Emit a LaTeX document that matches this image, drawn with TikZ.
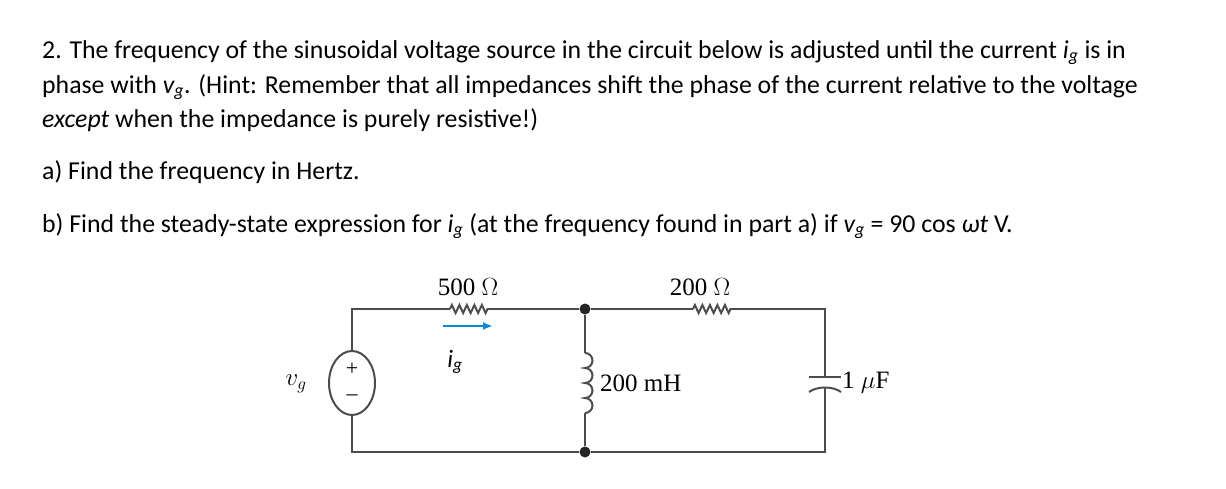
\documentclass[tikz,border=0pt]{standalone}
\usepackage{fontspec}
\setmainfont{Carlito}
\newfontfamily\tms{Liberation Serif}
\usetikzlibrary{decorations.pathmorphing,arrows.meta,shapes.geometric}
\newcommand{\ig}{\textit{i\textsubscript{g}}}
\newcommand{\vg}{\textit{v\textsubscript{g}}}
\begin{document}
\begin{tikzpicture}[x=1pt,y=-1pt,
  txt/.style={anchor=base west,inner sep=0pt,font=\fontsize{25.8}{30}\selectfont},
  lbl/.style={inner sep=0pt,font=\tms\fontsize{25}{28}\selectfont},
  wire/.style={draw=black!70,line width=2pt},
  dot/.style={circle,fill=black!85,inner sep=0pt,minimum size=11pt}]
\useasboundingbox (0,0) rectangle (1226,488);
\node[txt] (l1) at (42,58) {2. The frequency of the sinusoidal voltage source in the circuit below is adjusted until the current \ig{} is in};
\node[txt] (l2) at (42,93) {phase with \vg. (Hint: Remember that all impedances shift the phase of the current relative to the voltage};
\node[txt] (l3) at (42,127) {\textit{except} when the impedance is purely resistive!)};
\node[txt] (l4) at (42,179) {a) Find the frequency in Hertz.};
\node[txt] (l5) at (42,232) {b) Find the steady-state expression for \ig{} (at the frequency found in part a) if \vg{} = 90 cos \textit{ωt} V.};
\coordinate (tl) at (352,309); \coordinate (bl) at (352,452);
\node[dot] (jt) at (585,309) {}; \node[dot] (jb) at (585,452) {};
\coordinate (tr) at (825,309); \coordinate (br) at (825,452);
\node[draw=black!70,line width=2pt,ellipse,minimum width=46pt,minimum height=64pt,inner sep=0pt] (src) at (352,383) {};
\coordinate (r1a) at (450,309); \coordinate (r1b) at (488,309);
\coordinate (r2a) at (693,309); \coordinate (r2b) at (731,309);
\coordinate (la) at (585,353); \coordinate (lb) at (585,413);
\coordinate (ca) at (825,377); \coordinate (cb) at (825,388);
\draw[wire] (src.north) -- (tl) -- (r1a);
\draw[wire,decoration={zigzag,segment length=7.5pt,amplitude=4pt},decorate] (r1a) -- (r1b);
\draw[wire] (r1b) -- (jt) -- (r2a);
\draw[wire,decoration={zigzag,segment length=7.5pt,amplitude=4pt},decorate] (r2a) -- (r2b);
\draw[wire] (r2b) -- (tr) -- (ca);
\draw[wire] (ca) ++(-16,0) -- ++(32,0);
\draw[wire] (cb) ++(-16,4) .. controls ++(8,-6) and ++(-8,-6) .. ++(32,0);
\draw[wire] (cb) -- (br) -- (jb) -- (bl) -- (src.south);
\draw[wire] (jt) -- (la);
\draw[wire] (la) \foreach \i in {1,...,4}{ arc[start angle=90,end angle=-90,radius=7.5pt]};
\draw[wire] (lb) -- (jb);
\node[lbl,font=\tms\fontsize{22}{24}\selectfont] (plus) at (352,369) {+};
\node[lbl,font=\tms\fontsize{22}{24}\selectfont] (minus) at (352,398) {–};
\node[lbl] (vgl) at (296,384) {$v_g$};
\node[lbl] (r1l) at (468,287) {500 $\Omega$};
\node[lbl] (r2l) at (700,287) {200 $\Omega$};
\node[lbl,anchor=west] (ll) at (600,383) {200 mH};
\node[lbl,anchor=west] (cl) at (842,383) {1 $\mu$F};
\coordinate (aa) at (443,326); \coordinate (ab) at (493,326);
\draw[-{Latex[length=10pt,width=8pt]},draw=cyan!70!blue,line width=2pt] (aa) -- (ab);
\node[inner sep=0pt,font=\fontsize{25}{30}\selectfont] (igl) at (455,362) {\ig};
\end{tikzpicture}
\end{document}
